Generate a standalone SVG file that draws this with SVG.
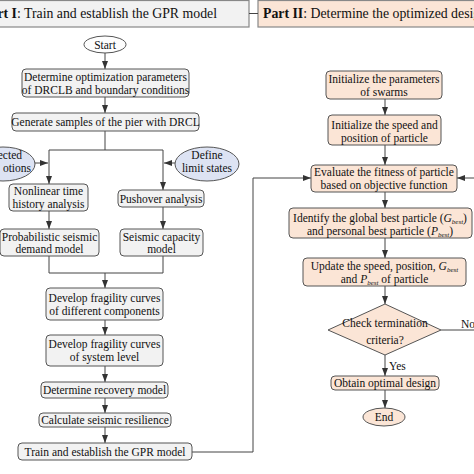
<svg xmlns="http://www.w3.org/2000/svg" width="474" height="474" viewBox="0 0 474 474">
<style>
text{font-family:"Liberation Serif","Times New Roman",serif;font-size:11.5px;fill:#111;text-anchor:middle}
.hd{font-size:13.8px;text-anchor:start}
.g{fill:#f2f2f2;stroke:#555;stroke-width:1}
.p{fill:#fbe5d6;stroke:#555;stroke-width:1}
.b{fill:#dde3f3;stroke:#555;stroke-width:1}
.w{fill:#fdfdfd;stroke:#555;stroke-width:1}
.c{fill:none;stroke:#444;stroke-width:1}
.s{font-size:7px;font-style:italic}
.i{font-style:italic}
</style>
<defs>
<marker id="ah" viewBox="0 0 8 6" refX="8" refY="3" markerWidth="8" markerHeight="6" markerUnits="userSpaceOnUse" orient="auto">
<path d="M0,0 L8,3 L0,6 z" fill="#333"/>
</marker>
</defs>
<rect width="474" height="474" fill="#fff"/>
<g id="header1">
<rect x="-10" y="0.5" width="259" height="26.5" fill="#f2f2f2" stroke="#888" stroke-width="1.2"/>
<text class="hd" x="217" y="18" style="text-anchor:end"><tspan font-weight="bold">Part I</tspan>: Train and establish the GPR model</text>
</g>
<g id="header2">
<rect x="258" y="0.5" width="230" height="26.5" fill="#fbe5d6" stroke="#888" stroke-width="1.2"/>
<text class="hd" x="263" y="18"><tspan font-weight="bold">Part II</tspan>: Determine the optimized design</text>
</g>
<g id="connectors">
<path class="c" d="M249,13.5 H258"/>
<path class="c" d="M105,53 V69" marker-end="url(#ah)"/>
<path class="c" d="M105,97 V113" marker-end="url(#ah)"/>
<path class="c" d="M105,131 V150 M49,150 H163"/>
<path class="c" d="M49,150 V184" marker-end="url(#ah)"/>
<path class="c" d="M163,150 V190" marker-end="url(#ah)"/>
<path class="c" d="M35,163 H48" marker-end="url(#ah)"/>
<path class="c" d="M175,163 H164" marker-end="url(#ah)"/>
<path class="c" d="M49,211 V229" marker-end="url(#ah)"/>
<path class="c" d="M163,207 V229" marker-end="url(#ah)"/>
<path class="c" d="M49,256 V273 H163 V256"/>
<path class="c" d="M105,273 V288" marker-end="url(#ah)"/>
<path class="c" d="M105,320 V335" marker-end="url(#ah)"/>
<path class="c" d="M105,366 V382" marker-end="url(#ah)"/>
<path class="c" d="M105,398 V413" marker-end="url(#ah)"/>
<path class="c" d="M105,427 V443" marker-end="url(#ah)"/>
<path class="c" d="M192,452 H253 V178 H311" marker-end="url(#ah)"/>
<path class="c" d="M385,99 V115" marker-end="url(#ah)"/>
<path class="c" d="M385,145 V165" marker-end="url(#ah)"/>
<path class="c" d="M385,192 V208" marker-end="url(#ah)"/>
<path class="c" d="M385,238 V258" marker-end="url(#ah)"/>
<path class="c" d="M385,286 V304" marker-end="url(#ah)"/>
<path class="c" d="M441,330 H490 V178 H457" marker-end="url(#ah)"/>
<path class="c" d="M385,355 V376" marker-end="url(#ah)"/>
<path class="c" d="M385,390 V408" marker-end="url(#ah)"/>
<text x="461" y="328" style="text-anchor:start">No</text>
<text x="389" y="370" style="text-anchor:start">Yes</text>
</g>
<g id="start">
<ellipse class="w" cx="105" cy="44.5" rx="21" ry="8.5"/>
<text x="105" y="48.5">Start</text>
</g>
<g id="determine-params">
<rect class="g" x="22" y="69" width="167" height="28" rx="4"/>
<text x="105.5" y="81">Determine optimization parameters</text>
<text x="105.5" y="94">of DRCLB and boundary conditions</text>
</g>
<g id="generate-samples">
<rect class="g" x="12" y="113" width="187" height="18" rx="4"/>
<text x="105.5" y="126">Generate samples of the pier with DRCL</text>
</g>
<g id="ground-motions">
<ellipse class="b" cx="3" cy="164" rx="32" ry="17"/>
<text x="22" y="159" style="text-anchor:end">ected</text>
<text x="31" y="172" style="text-anchor:end">otions</text>
</g>
<g id="limit-states">
<ellipse class="b" cx="207" cy="164" rx="32" ry="17"/>
<text x="207" y="159">Define</text>
<text x="207" y="172">limit states</text>
</g>
<g id="nonlinear">
<rect class="g" x="9" y="184" width="79" height="27" rx="4"/>
<text x="48.5" y="195">Nonlinear time</text>
<text x="48.5" y="208">history analysis</text>
</g>
<g id="pushover">
<rect class="g" x="118" y="190" width="86" height="17" rx="4"/>
<text x="161" y="202.5">Pushover analysis</text>
</g>
<g id="demand-model">
<rect class="g" x="0" y="229" width="99" height="27" rx="4"/>
<text x="49.5" y="241">Probabilistic seismic</text>
<text x="49.5" y="253">demand model</text>
</g>
<g id="capacity-model">
<rect class="g" x="120" y="229" width="83" height="27" rx="4"/>
<text x="161.5" y="241">Seismic capacity</text>
<text x="161.5" y="253">model</text>
</g>
<g id="fragility-components">
<rect class="g" x="46" y="288" width="117" height="32" rx="4"/>
<text x="104.5" y="302">Develop fragility curves</text>
<text x="104.5" y="315">of different components</text>
</g>
<g id="fragility-system">
<rect class="g" x="46" y="335" width="117" height="31" rx="4"/>
<text x="104.5" y="348">Develop fragility curves</text>
<text x="104.5" y="361">of system level</text>
</g>
<g id="recovery">
<rect class="g" x="41" y="382" width="127" height="16" rx="4"/>
<text x="104.5" y="393.5">Determine recovery model</text>
</g>
<g id="resilience">
<rect class="g" x="39" y="413" width="132" height="14" rx="4"/>
<text x="105" y="424">Calculate seismic resilience</text>
</g>
<g id="train-gpr">
<rect class="g" x="18" y="443" width="174" height="17" rx="4"/>
<text x="105" y="455.5">Train and establish the GPR model</text>
</g>
<g id="init-swarms">
<rect class="p" x="326" y="71" width="116" height="28" rx="4"/>
<text x="384" y="83">Initialize the parameters</text>
<text x="384" y="96">of swarms</text>
</g>
<g id="init-speed">
<rect class="p" x="328" y="115" width="113" height="30" rx="4"/>
<text x="384.5" y="129">Initialize the speed and</text>
<text x="384.5" y="142">position of particle</text>
</g>
<g id="evaluate">
<rect class="p" x="311" y="165" width="146" height="27" rx="4"/>
<text x="384" y="176">Evaluate the fitness of particle</text>
<text x="384" y="189">based on objective function</text>
</g>
<g id="identify">
<rect class="p" x="289" y="208" width="183" height="30" rx="4"/>
<text x="380" y="222">Identify the global best particle (<tspan class="i">G</tspan><tspan class="s" dy="2">best</tspan><tspan dy="-2">)</tspan></text>
<text x="380" y="235">and personal best particle (<tspan class="i">P</tspan><tspan class="s" dy="2">best</tspan><tspan dy="-2">)</tspan></text>
</g>
<g id="update">
<rect class="p" x="303" y="258" width="163" height="28" rx="4"/>
<text x="384.5" y="270">Update the speed, position, <tspan class="i">G</tspan><tspan class="s" dy="2">best</tspan></text>
<text x="384.5" y="283">and <tspan class="i">P</tspan><tspan class="s" dy="2">best</tspan><tspan dy="-2"> of  particle</tspan></text>
</g>
<g id="check">
<polygon class="p" points="385,304 441,330 385,355 328,330"/>
<text x="385" y="327">Check termination</text>
<text x="385" y="344">criteria?</text>
</g>
<g id="obtain">
<rect class="p" x="331" y="376" width="108" height="14" rx="4"/>
<text x="385" y="387">Obtain optimal design</text>
</g>
<g id="end">
<ellipse class="p" cx="384" cy="417" rx="21" ry="9"/>
<text x="384" y="421">End</text>
</g>
</svg>
